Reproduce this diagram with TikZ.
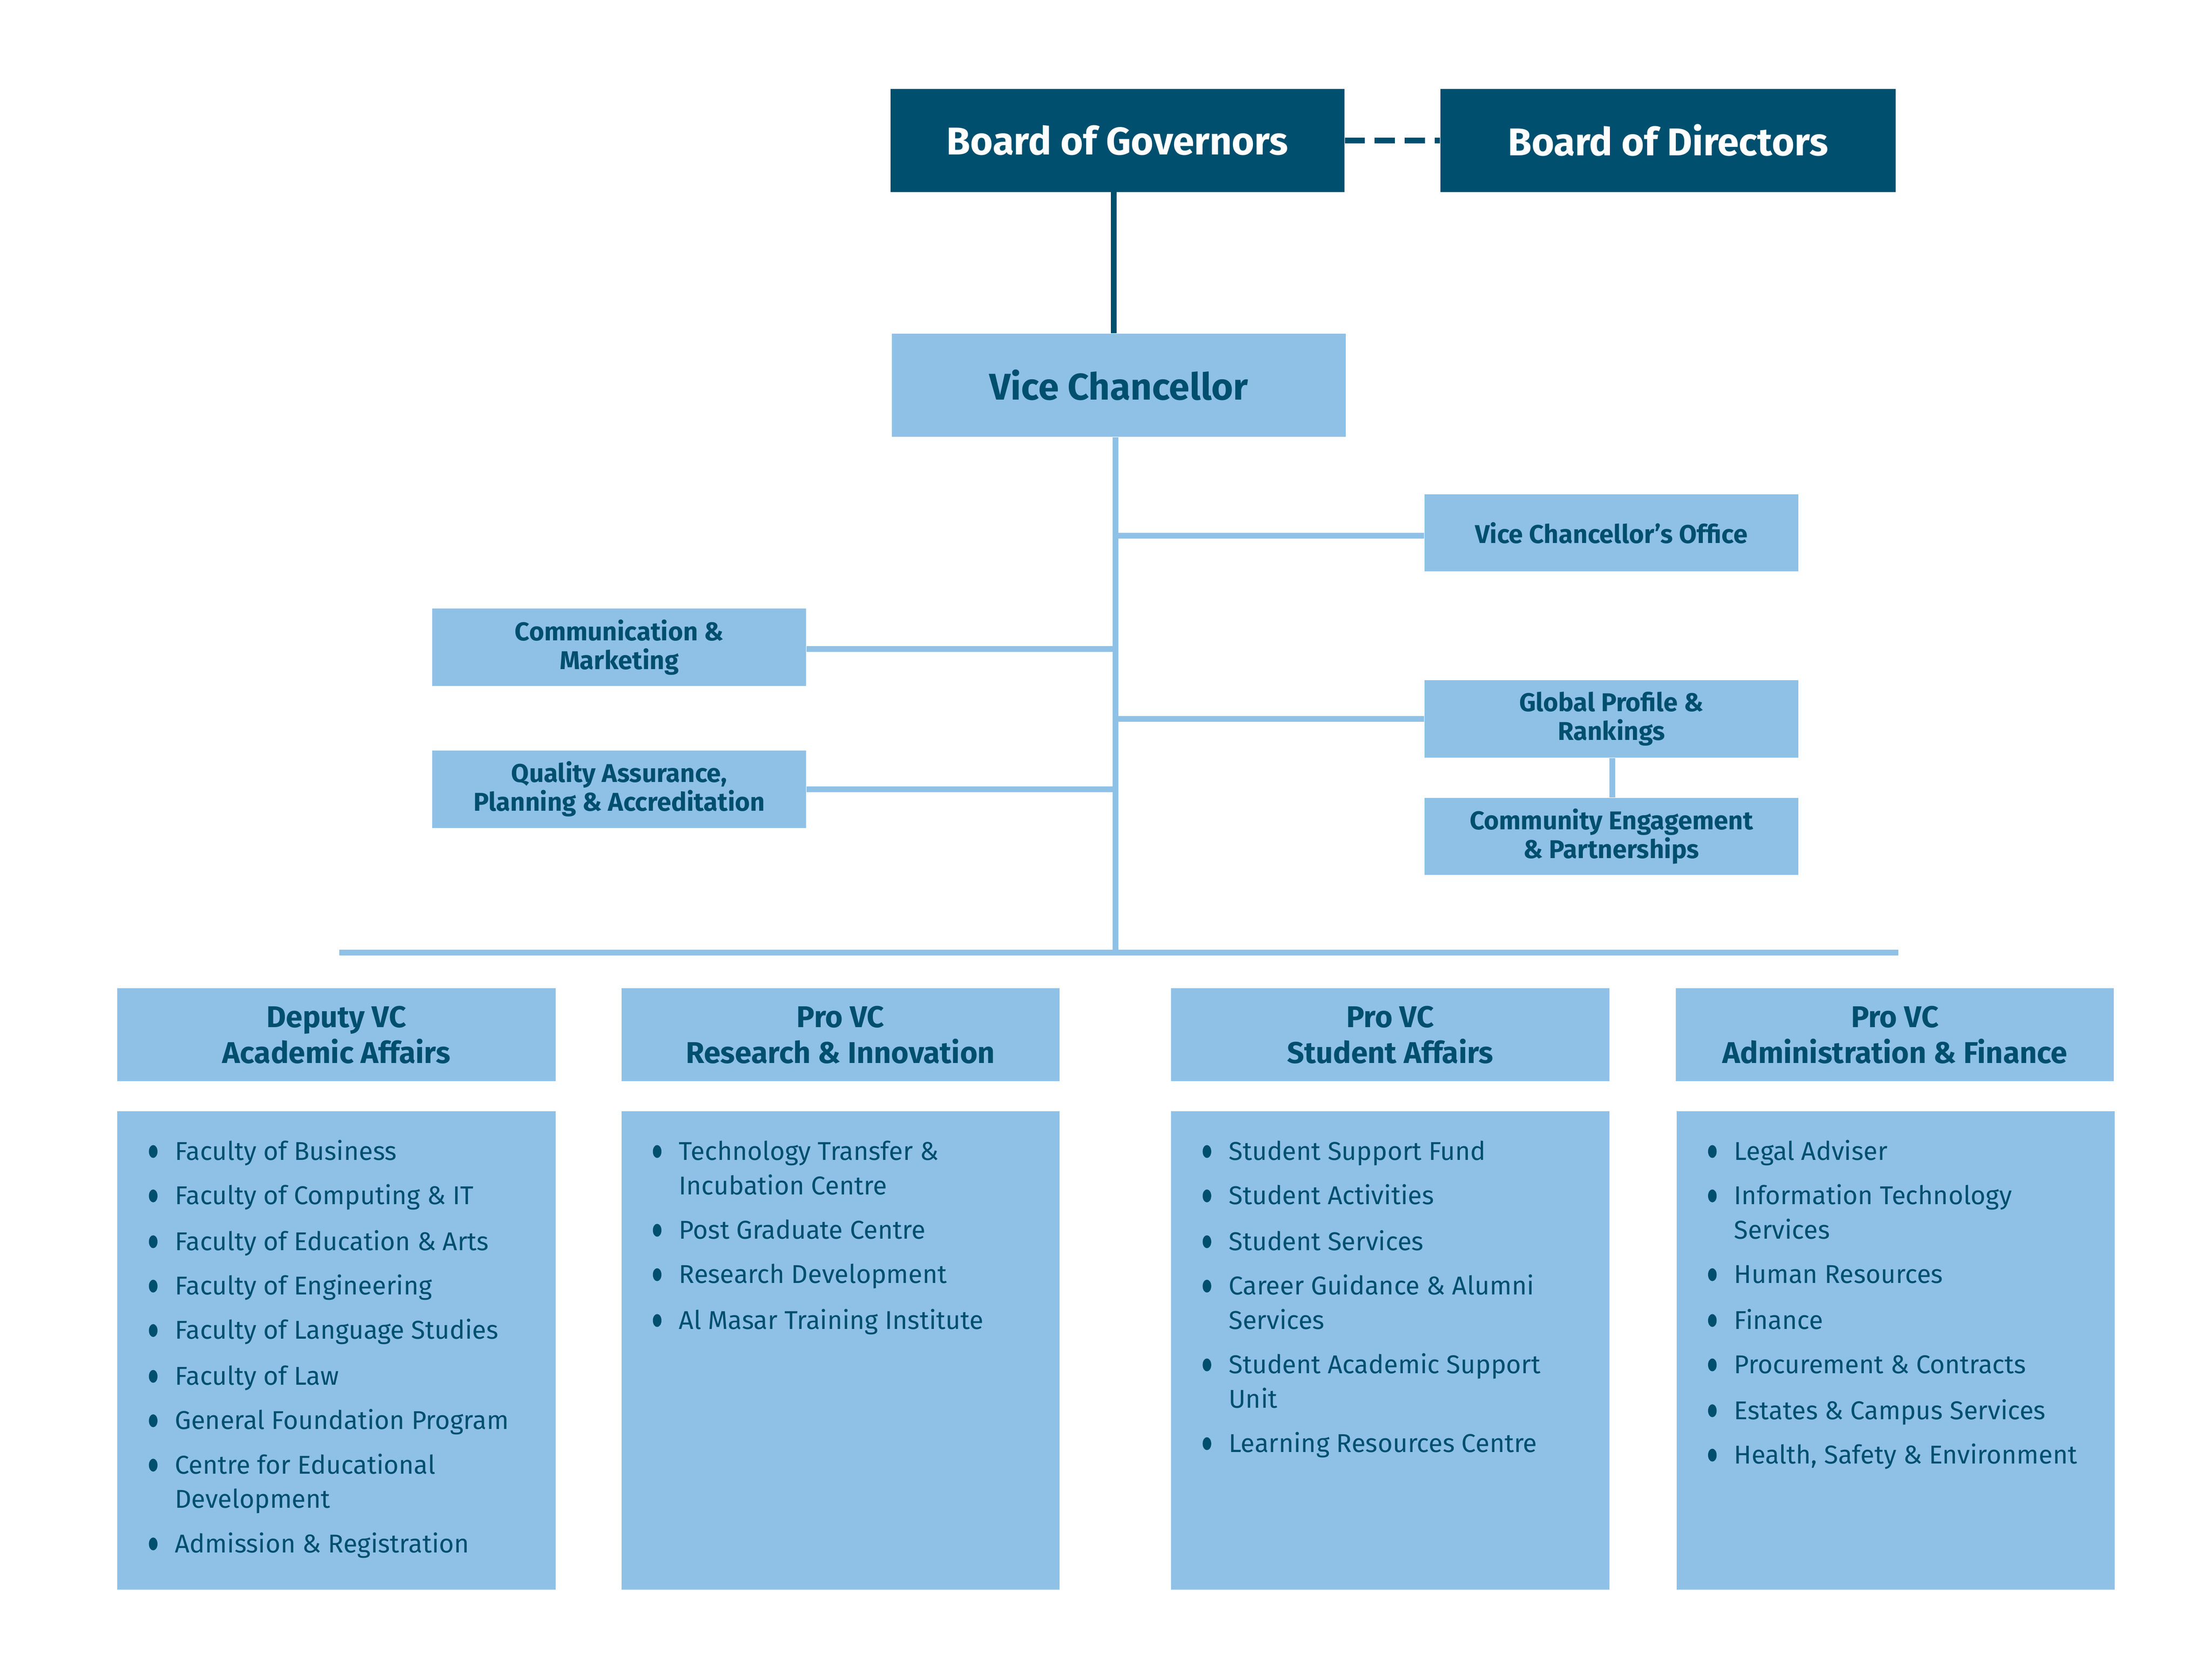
\documentclass[tikz,border=0pt]{standalone}
\usepackage{fontspec}
\usetikzlibrary{shapes.geometric}
\setmainfont{Fira Sans}
\begin{document}
\definecolor{dark}{HTML}{004F6E}
\definecolor{light}{HTML}{8FC1E7}
\begin{tikzpicture}[x=1pt,y=-1pt,
 darkbox/.style={fill=dark,text=white,font=\bfseries\fontsize{27}{30}\selectfont,inner sep=0},
 vcbox/.style={fill=light,text=dark,font=\bfseries\fontsize{26}{28}\selectfont,inner sep=0},
 sbox/.style={fill=light,text=dark,font=\bfseries\fontsize{18}{20}\selectfont,align=center,inner sep=0},
 hbox/.style={fill=light,text=dark,font=\bfseries\fontsize{21}{25}\selectfont,align=center,inner sep=0},
 cbox/.style={fill=light,inner sep=0},
 itm/.style={anchor=base west,text=dark,font=\fontsize{18}{24}\selectfont,align=left,inner sep=0},
 bul/.style={fill=dark,ellipse,inner sep=0,minimum width=6,minimum height=9},
 dl/.style={dark,line width=4},
 ll/.style={light,line width=4}]
\useasboundingbox (0,0) rectangle (1545,1159);
\node[darkbox,minimum width=317,minimum height=72] (bog) at (780.5,98) {Board of Governors};
\node[darkbox,minimum width=318,minimum height=72] (bod) at (1165,98) {Board of Directors};
\draw[dl,dash pattern=on 14 off 7] (bog.east) -- (bod.west);
\node[vcbox,minimum width=317,minimum height=72] (vc) at (781.5,269) {Vice Chancellor};
\draw[dl] (bog.south -| 778,0) -- (vc.north -| 778,0);
\coordinate (vbot) at (779,665);
\draw[ll] (vc.south -| 779,0) -- (vbot);
\node[sbox,minimum width=261,minimum height=54] (vco) at (1125.5,372) {Vice Chancellor’s Office};
\node[sbox,minimum width=261,minimum height=54] (cm) at (432.5,452) {Communication \&\\ Marketing};
\node[sbox,minimum width=261,minimum height=54] (gp) at (1125.5,502) {Global Profile \&\\ Rankings};
\node[sbox,minimum width=261,minimum height=54] (qa) at (432.5,551) {Quality Assurance,\\ Planning \& Accreditation};
\node[sbox,minimum width=261,minimum height=54] (ce) at (1125.5,584) {Community Engagement\\ \& Partnerships};
\draw[ll] (779,374) -- (vco.west |- 0,374);
\draw[ll] (779,453) -- (cm.east |- 0,453);
\draw[ll] (779,502) -- (gp.west |- 0,502);
\draw[ll] (779,551) -- (qa.east |- 0,551);
\draw[ll] (gp.south -| 1126,0) -- (ce.north -| 1126,0);
\coordinate (hl) at (237,665); \coordinate (hr) at (1326,665);
\draw[ll] (hl) -- (hr);
\node[hbox,minimum width=306,minimum height=65] (h1) at (235,722.5) {Deputy VC\\ Academic Affairs};
\node[hbox,minimum width=306,minimum height=65] (h2) at (587,722.5) {Pro VC\\ Research \& Innovation};
\node[hbox,minimum width=306,minimum height=65] (h3) at (971,722.5) {Pro VC\\ Student Affairs};
\node[hbox,minimum width=306,minimum height=65] (h4) at (1323.5,722.5) {Pro VC\\ Administration \& Finance};
\node[cbox,minimum width=306,minimum height=334] (c1) at (235,943) {};
\node[cbox,minimum width=306,minimum height=334] (c2) at (587,943) {};
\node[cbox,minimum width=306,minimum height=334] (c3) at (971,943) {};
\node[cbox,minimum width=306,minimum height=334] (c4) at (1324,943) {};
\newcommand\li[4]{\node[bul] (b#1) at (#2+25,#3) {};\node[itm] (t#1) at (#2+40,#3+6) {#4};}
\newcommand\lii[5]{\node[bul] (b#1) at (#2+25,#3) {};\node[itm] (t#1) at (#2+40,#3+30) {#4\\#5};}
\li{a1}{82}{804}{Faculty of Business}
\li{a2}{82}{835}{Faculty of Computing \& IT}
\li{a3}{82}{867}{Faculty of Education \& Arts}
\li{a4}{82}{898}{Faculty of Engineering}
\li{a5}{82}{929}{Faculty of Language Studies}
\li{a6}{82}{961}{Faculty of Law}
\li{a7}{82}{992}{General Foundation Program}
\lii{a8}{82}{1023}{Centre for Educational}{Development}
\li{a9}{82}{1078}{Admission \& Registration}
\lii{b1}{434}{804}{Technology Transfer \&}{Incubation Centre}
\li{b2}{434}{859}{Post Graduate Centre}
\li{b3}{434}{890}{Research Development}
\li{b4}{434}{922}{Al Masar Training Institute}
\li{c1}{818}{804}{Student Support Fund}
\li{c2}{818}{835}{Student Activities}
\li{c3}{818}{867}{Student Services}
\lii{c4}{818}{898}{Career Guidance \& Alumni}{Services}
\lii{c5}{818}{953}{Student Academic Support}{Unit}
\li{c6}{818}{1008}{Learning Resources Centre}
\li{d1}{1171}{804}{Legal Adviser}
\lii{d2}{1171}{835}{Information Technology}{Services}
\li{d3}{1171}{890}{Human Resources}
\li{d4}{1171}{922}{Finance}
\li{d5}{1171}{953}{Procurement \& Contracts}
\li{d6}{1171}{985}{Estates \& Campus Services}
\li{d7}{1171}{1016}{Health, Safety \& Environment}
\end{tikzpicture}
\end{document}
